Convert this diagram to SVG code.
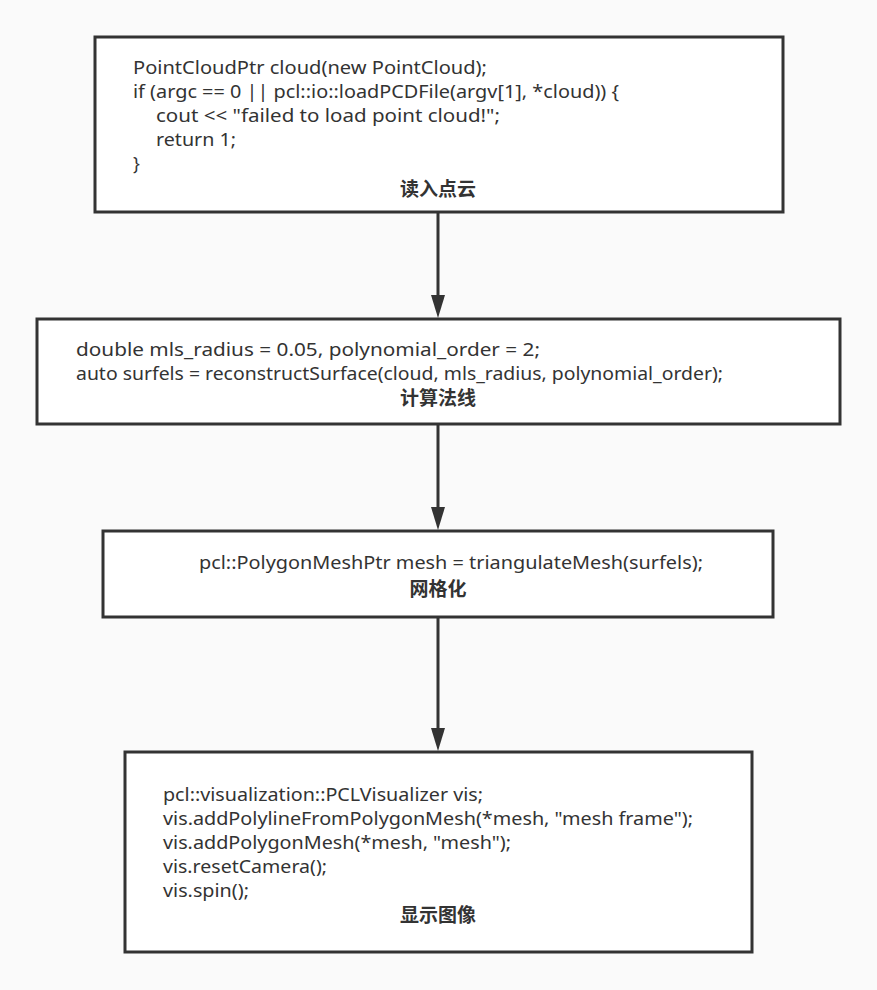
<svg xmlns="http://www.w3.org/2000/svg" width="877" height="990" viewBox="0 0 877 990">
<style>
.box{fill:#ffffff;stroke:#333333;stroke-width:3}
.t{font-family:"Noto Sans","Noto Sans CJK SC",sans-serif;font-size:18px;fill:#333333}
.b{font-family:"Noto Sans CJK SC",sans-serif;font-size:19px;font-weight:bold;fill:#333333;text-anchor:middle}
.c{stroke:#333333;stroke-width:3;fill:none}
.a{fill:#333333}
</style>
<rect x="0" y="0" width="877" height="990" fill="#fafafa"/>
<g id="connectors">
<line class="c" x1="438" y1="212" x2="438" y2="300"/>
<polygon class="a" points="431,295 445,295 438,318"/>
<line class="c" x1="438" y1="424" x2="438" y2="512"/>
<polygon class="a" points="431,507 445,507 438,530"/>
<line class="c" x1="438" y1="617" x2="438" y2="733"/>
<polygon class="a" points="431,728 445,728 438,751"/>
</g>
<g id="node1">
<rect class="box" x="95" y="37" width="688" height="175"/>
<text class="t" x="133" y="74" textLength="354" lengthAdjust="spacingAndGlyphs">PointCloudPtr cloud(new PointCloud);</text>
<text class="t" x="133" y="98" textLength="486" lengthAdjust="spacingAndGlyphs">if (argc == 0 || pcl::io::loadPCDFile(argv[1], *cloud)) {</text>
<text class="t" x="156" y="122" textLength="344" lengthAdjust="spacingAndGlyphs">cout &lt;&lt; "failed to load point cloud!";</text>
<text class="t" x="156" y="146" textLength="80" lengthAdjust="spacingAndGlyphs">return 1;</text>
<text class="t" x="133" y="170">}</text>
<text class="b" x="438" y="196">读入点云</text>
</g>
<g id="node2">
<rect class="box" x="37" y="319" width="803" height="105"/>
<text class="t" x="76" y="356" textLength="464" lengthAdjust="spacingAndGlyphs">double mls_radius = 0.05, polynomial_order = 2;</text>
<text class="t" x="76" y="380" textLength="647" lengthAdjust="spacingAndGlyphs">auto surfels = reconstructSurface(cloud, mls_radius, polynomial_order);</text>
<text class="b" x="438" y="405">计算法线</text>
</g>
<g id="node3">
<rect class="box" x="103" y="531" width="670" height="86"/>
<text class="t" x="199" y="569" textLength="504" lengthAdjust="spacingAndGlyphs">pcl::PolygonMeshPtr mesh = triangulateMesh(surfels);</text>
<text class="b" x="438" y="596">网格化</text>
</g>
<g id="node4">
<rect class="box" x="125" y="752" width="627" height="200"/>
<text class="t" x="163" y="801" textLength="320" lengthAdjust="spacingAndGlyphs">pcl::visualization::PCLVisualizer vis;</text>
<text class="t" x="163" y="825" textLength="530" lengthAdjust="spacingAndGlyphs">vis.addPolylineFromPolygonMesh(*mesh, "mesh frame");</text>
<text class="t" x="163" y="849" textLength="348" lengthAdjust="spacingAndGlyphs">vis.addPolygonMesh(*mesh, "mesh");</text>
<text class="t" x="163" y="873" textLength="164" lengthAdjust="spacingAndGlyphs">vis.resetCamera();</text>
<text class="t" x="163" y="897" textLength="86" lengthAdjust="spacingAndGlyphs">vis.spin();</text>
<text class="b" x="438" y="922">显示图像</text>
</g>
</svg>
